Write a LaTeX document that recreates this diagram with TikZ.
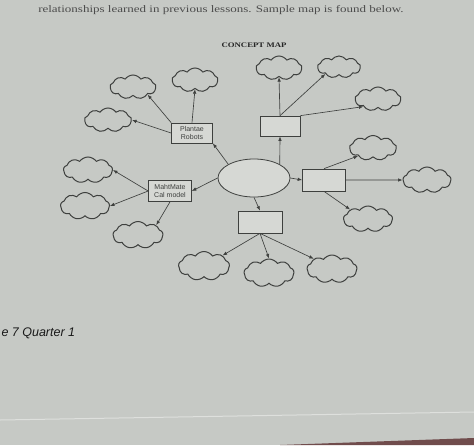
\documentclass[tikz,border=0pt]{standalone}
\usepackage{fontspec}
\setmainfont{Liberation Serif}
\newfontfamily\headsans{Liberation Sans}
\usetikzlibrary{shapes.symbols,arrows.meta,shapes.geometric}
\definecolor{paper}{RGB}{198,201,197}
\definecolor{ink}{RGB}{62,64,62}
\definecolor{boxfill}{RGB}{214,216,212}
\tikzset{
  cloudnode/.style={cloud, cloud puffs=9, cloud puff arc=110, cloud ignores aspect,
    draw=ink, line width=1pt, fill=paper, inner sep=0pt, minimum width=46pt, minimum height=24pt},
  boxnode/.style={draw=ink, line width=0.7pt, fill=boxfill, minimum width=40pt, minimum height=20pt, inner sep=1pt},
  hand/.style={font=\fontsize{7}{7.5}\selectfont\headsans, align=center, text=ink},
  link/.style={draw=ink, line width=0.65pt, -{Latex[length=4.5pt,width=3.5pt]}},
}
\begin{document}
\begin{tikzpicture}[x=1pt,y=-1pt]
\fill[paper] (0,0) rectangle (474,445);
\useasboundingbox (0,0) rectangle (474,445);
\fill[black!80!red!70] (280,445) -- (474,438) -- (474,445) -- cycle;
\draw[white!85!paper, line width=1pt, opacity=0.5] (0,420) -- (474,412);

\node[anchor=west, text=black!70, font=\fontsize{10}{11}\selectfont, xscale=1.3, inner sep=0pt] (intro) at (38,10) {relationships learned in previous lessons. Sample map is found below.};
\node[text=black!85, font=\fontsize{7}{8}\selectfont\bfseries, xscale=1.25, inner sep=0pt] (title) at (254,45) {CONCEPT MAP};
\node[anchor=west, text=black!90, font=\fontsize{12.5}{13}\selectfont\headsans\itshape] (grade) at (-2,333) {e 7 Quarter 1};

% centre
\node[ellipse, draw=ink, line width=0.8pt, fill=boxfill, minimum width=72pt, minimum height=38pt] (c) at (254,178) {};

% boxes
\node[boxnode, minimum width=41pt] (plant) at (192,133) {};
\node[hand] at (plant) {Plantae\\Robots};
\node[boxnode, minimum width=43pt, minimum height=21pt] (math) at (170,191) {};
\node[hand] at (math) {MahtMate\\Cal model};
\node[boxnode] (top) at (280,126) {};
\node[boxnode, minimum width=43pt, minimum height=22pt] (right) at (324,180) {};
\node[boxnode, minimum width=44pt, minimum height=22pt] (bot) at (260,222) {};

% clouds
\node[cloudnode] (ca) at (279,68) {};
\node[cloudnode, minimum width=43pt, minimum height=22pt] (cb) at (339,67) {};
\node[cloudnode] (cc) at (378,99) {};
\node[cloudnode] (cd) at (195,80) {};
\node[cloudnode] (ce) at (133,87) {};
\node[cloudnode, minimum width=47pt] (cf) at (108,120) {};
\node[cloudnode, minimum width=49pt, minimum height=26pt] (cg) at (88,170) {};
\node[cloudnode, minimum width=49pt, minimum height=27pt] (ch) at (85,206) {};
\node[cloudnode, minimum width=50pt, minimum height=27pt] (ci) at (138,235) {};
\node[cloudnode, minimum width=47pt, minimum height=25pt] (cj) at (373,148) {};
\node[cloudnode, minimum width=48pt, minimum height=26pt] (ck) at (427,180) {};
\node[cloudnode, minimum width=49pt, minimum height=26pt] (cl) at (368,219) {};
\node[cloudnode, minimum width=51pt, minimum height=29pt] (cm) at (204,266) {};
\node[cloudnode, minimum width=50pt, minimum height=28pt] (cn) at (269,273) {};
\node[cloudnode, minimum width=50pt, minimum height=28pt] (co) at (332,269) {};

% centre to boxes
\draw[link] (c.north east) -- (top.south);
\draw[link] (c.north west) -- (plant.south east);
\draw[link] (c.west) -- (math.east);
\draw[link] (c.east) -- (right.west);
\draw[link] (c.south) -- (bot.north);

% top box
\draw[link] (top.north) -- (ca.south);
\draw[link] (top.north) -- (cb.south west);
\draw[link] (top.north east) -- (cc.south west);

% plantae
\draw[link] (plant.north) -- (cd.south);
\draw[link] (plant.north west) -- (ce.south east);
\draw[link] (plant.west) -- (cf.east);

% math
\draw[link] (math.west) -- (cg.east);
\draw[link] (math.west) -- (ch.east);
\draw[link] (math.south) -- (ci.north east);

% right box
\draw[link] (right.north) -- (cj.south west);
\draw[link] (right.east) -- (ck.west);
\draw[link] (right.south) -- (cl.north west);

% bottom box
\draw[link] (bot.south) -- (cm.north east);
\draw[link] (bot.south) -- (cn.north);
\draw[link] (bot.south) -- (co.north west);
\end{tikzpicture}
\end{document}
